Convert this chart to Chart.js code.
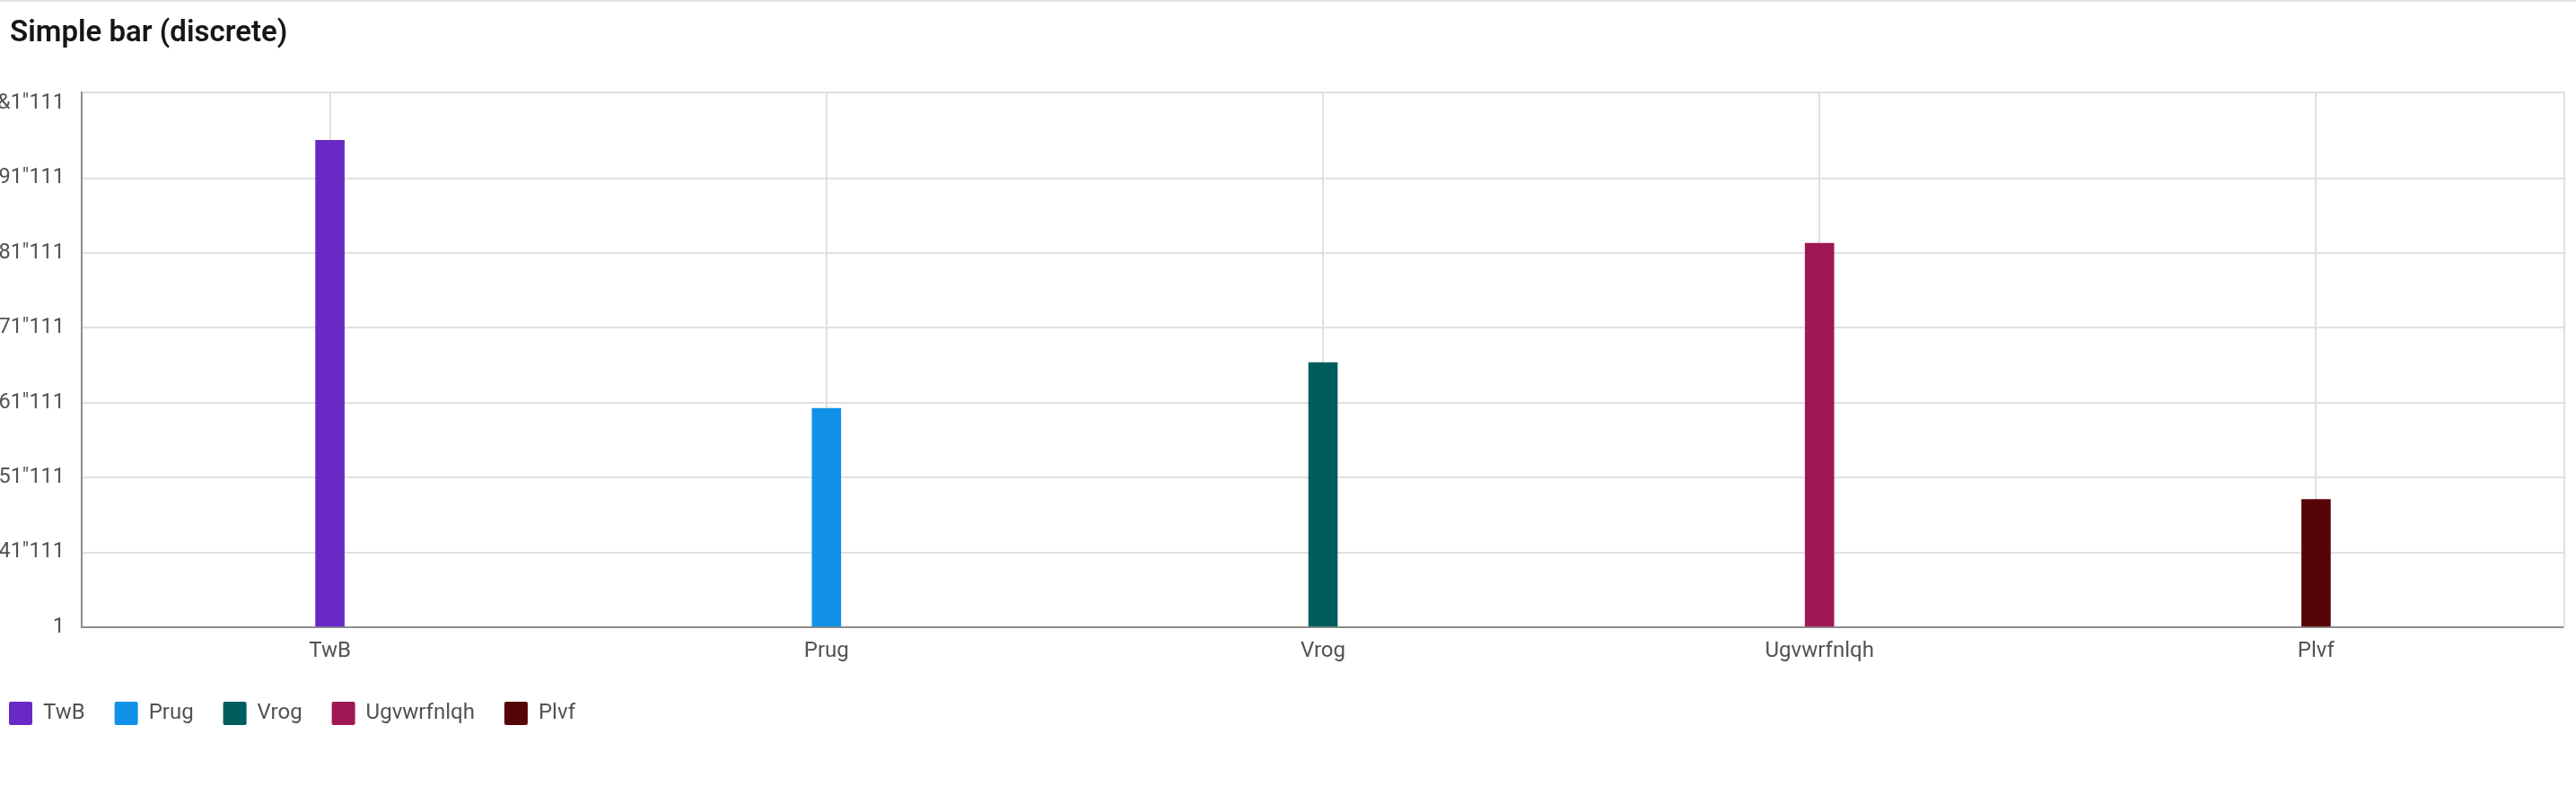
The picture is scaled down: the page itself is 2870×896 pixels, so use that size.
<!DOCTYPE html>
<html>
<head>
<meta charset="utf-8">
<title>Simple bar (discrete)</title>
<script src="https://cdn.jsdelivr.net/npm/chart.js@4/dist/chart.umd.min.js"></script>
<style>
  html, body { margin: 0; padding: 0; background: #ffffff; }
  #wrap { position: relative; width: 2870px; height: 896px; overflow: hidden; }
  #topline { position: absolute; left: 0; top: 0; width: 2870px; height: 2px; background: #e0e0e0; }
  canvas { display: block; }
</style>
</head>
<body>
<div id="wrap">
  <canvas id="chart" width="2870" height="896"></canvas>
  <div id="topline"></div>
</div>
<script>
// ---- data ----
const categories = ['TwB', 'Prug', 'Vrog', 'Ugvwrfnlqh', 'Plvf'];
const values = [65060, 29240, 35350, 51300, 17070];
const barColors = ['#6929c4', '#1192e8', '#005d5d', '#9f1853', '#570408'];
const yTickValues = [0, 10000, 20000, 30000, 40000, 50000, 60000, 70000];
const yTickLabels = ['1', '41"111', '51"111', '61"111', '71"111', '81"111', '91"111', '&1"111'];
const yMax = 71500;

// ---- styling ----
const FONT = 'Roboto, "Noto Sans", sans-serif';
const TEXT = '#525252';
const GRID = '#e0e0e0';
const AXIS = '#8d8d8d';
Chart.defaults.font.family = FONT;

const placeBlocks = {
  id: 'placeBlocks',
  afterLayout(chart) {
    if (chart.titleBlock) chart.titleBlock.left = 11;
    const lg = chart.legend;
    if (lg) lg.left = 10 - lg.options.labels.padding;
  }
};

new Chart(document.getElementById('chart'), {
  type: 'bar',
  data: {
    labels: categories,
    datasets: [{
      data: values,
      backgroundColor: barColors,
      borderWidth: 0,
      barThickness: 32
    }]
  },
  options: {
    responsive: false,
    animation: false,
    devicePixelRatio: 1,
    events: [],
    layout: { padding: { left: 0, right: 13, top: 0, bottom: 78 } },
    plugins: {
      tooltip: { enabled: false },
      title: {
        display: true,
        text: 'Simple bar (discrete)',
        align: 'start',
        color: '#161616',
        font: { family: FONT, size: 33, weight: '600' },
        padding: { top: 18, bottom: 45 }
      },
      legend: {
        display: true,
        position: 'bottom',
        align: 'start',
        onClick: null,
        labels: {
          color: TEXT,
          font: { family: FONT, size: 24 },
          boxWidth: 26,
          boxHeight: 26,
          useBorderRadius: true,
          borderRadius: 2,
          padding: 33,
          generateLabels: () => categories.map((c, i) => ({
            text: c,
            fillStyle: barColors[i],
            strokeStyle: barColors[i],
            lineWidth: 0,
            hidden: false,
            index: i,
            borderRadius: 2,
            fontColor: TEXT
          }))
        }
      }
    },
    scales: {
      x: {
        type: 'category',
        offset: true,
        grid: { offset: false, color: GRID, lineWidth: 2, drawTicks: false },
        border: { display: true, color: AXIS, width: 2 },
        ticks: { color: TEXT, font: { family: FONT, size: 24 }, padding: 13, maxRotation: 0, autoSkip: false },
        afterFit: s => { s.height = 50; }
      },
      xTop: {
        type: 'category',
        position: 'top',
        display: true,
        grid: { display: false, drawTicks: false },
        ticks: { display: false },
        border: { display: true, color: GRID, width: 2 },
        afterFit: s => { s.height = 0; }
      },
      y: {
        type: 'linear',
        min: 0,
        max: yMax,
        afterBuildTicks: s => { s.ticks = yTickValues.map(v => ({ value: v })); },
        afterFit: s => { s.width = 91; },
        grid: {
          color: ctx => (ctx.type === 'tick' && ctx.index === yTickValues.length - 1) ? 'rgba(0,0,0,0)' : GRID,
          lineWidth: 2,
          drawTicks: false
        },
        border: { display: true, color: AXIS, width: 2 },
        ticks: {
          color: TEXT,
          font: { family: FONT, size: 23.5 },
          padding: 19,
          autoSkip: false,
          callback: (v, i) => yTickLabels[i]
        }
      },
      yRight: {
        type: 'linear',
        position: 'right',
        display: true,
        min: 0,
        max: yMax,
        grid: { display: false, drawTicks: false },
        ticks: { display: false },
        border: { display: true, color: GRID, width: 2 },
        afterFit: s => { s.width = 0; }
      }
    }
  },
  plugins: [placeBlocks]
});
</script>
</body>
</html>
